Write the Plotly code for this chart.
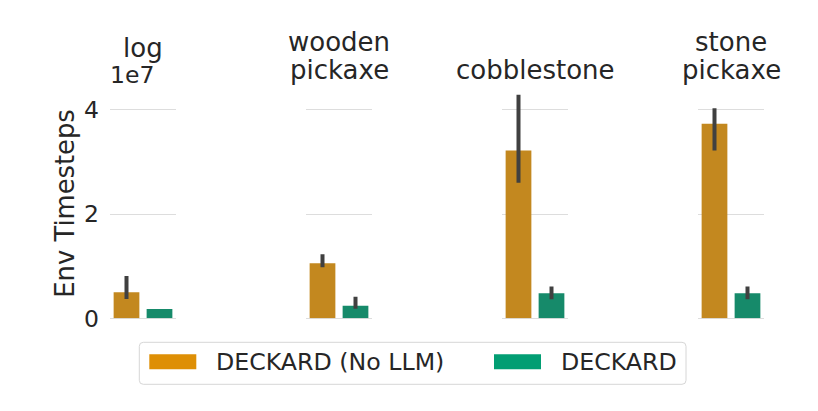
import plotly.graph_objects as go

# ---------------- data ----------------
tasks = ["log", "wooden\npickaxe", "cobblestone", "stone\npickaxe"]
series = ["DECKARD (No LLM)", "DECKARD"]

no_llm_mean = [0.50e7, 1.055e7, 3.22e7, 3.735e7]
no_llm_lo = [0.37e7, 0.98e7, 2.60e7, 3.22e7]
no_llm_hi = [0.81e7, 1.23e7, 4.29e7, 4.03e7]

deckard_mean = [0.18e7, 0.24e7, 0.48e7, 0.48e7]
deckard_lo = [0.18e7, 0.185e7, 0.365e7, 0.365e7]
deckard_hi = [0.18e7, 0.415e7, 0.61e7, 0.61e7]

y_tick_vals = [0, 2e7, 4e7]
y_tick_text = ["0", "2", "4"]
y_offset_label = "1e7"
y_title = "Env Timesteps"

# ---------------- style ----------------
bar_colors = ["#c3881f", "#168a6a"]
legend_colors = ["#de8f05", "#029e73"]
err_color = "#404040"
grid_color = "#dddddd"
text_color = "#262626"
FONT = "DejaVu Sans"

W, H = 818, 411
panel_left = [110, 306, 502, 698]
panel_w = 66
y_top_px, y_bot_px = 89.1, 318.3
y_max = 4.4e7
tick_fs = 23.5
title_fs = 26
label_fs = 25.8
legend_fs = 23.7


def px(x):
    return x / W


def py(y):
    return 1 - y / H


fig = go.Figure()
groups = [
    (no_llm_mean, no_llm_lo, no_llm_hi),
    (deckard_mean, deckard_lo, deckard_hi),
]

for i, task in enumerate(tasks):
    sfx = "" if i == 0 else str(i + 1)
    for j, (means, lo, hi) in enumerate(groups):
        fig.add_trace(go.Bar(
            x=[series[j]], y=[means[i]],
            xaxis="x" + sfx, yaxis="y" + sfx,
            marker=dict(color=bar_colors[j], line=dict(width=0)),
            width=0.78,
            error_y=dict(type="data", symmetric=False,
                         array=[hi[i] - means[i]],
                         arrayminus=[means[i] - lo[i]],
                         color=err_color, thickness=4, width=0),
            showlegend=False,
        ))
    fig.layout["xaxis" + sfx] = dict(
        domain=[px(panel_left[i]), px(panel_left[i] + panel_w)],
        type="category", categoryarray=series, categoryorder="array",
        range=[-0.5, 1.5], showticklabels=False, showgrid=False,
        zeroline=False, showline=False, ticks="",
        anchor="y" + sfx,
    )
    fig.layout["yaxis" + sfx] = dict(
        domain=[py(y_bot_px), py(y_top_px)],
        range=[0, y_max],
        tickvals=y_tick_vals, ticktext=y_tick_text,
        showticklabels=(i == 0),
        tickfont=dict(size=tick_fs, color=text_color, family=FONT),
        ticklabelstandoff=10,
        showgrid=True, gridcolor=grid_color, gridwidth=1,
        zeroline=True, zerolinecolor=grid_color, zerolinewidth=1,
        showline=False, ticks="",
        anchor="x" + sfx,
    )

annotations = []
# panel titles
for i, task in enumerate(tasks):
    lines = task.split("\n")
    last_base = 78.8 if i > 0 else 57.0
    cx = panel_left[i] + panel_w / 2
    for k, line in enumerate(lines):
        base = last_base - (len(lines) - 1 - k) * 28
        annotations.append(dict(
            text=line, x=px(cx), y=py(base - 0.346 * title_fs),
            xref="paper", yref="paper", xanchor="center", yanchor="middle",
            showarrow=False, borderpad=0,
            font=dict(size=title_fs, color=text_color, family=FONT),
        ))

# offset text
annotations.append(dict(
    text=y_offset_label, x=px(109), y=py(83.3 - 0.346 * tick_fs),
    xref="paper", yref="paper", xanchor="left", yanchor="middle",
    showarrow=False, borderpad=0,
    font=dict(size=tick_fs, color=text_color, family=FONT),
))

# y title
annotations.append(dict(
    text=y_title, x=px(65), y=py((y_top_px + y_bot_px) / 2),
    xref="paper", yref="paper", xanchor="center", yanchor="middle",
    textangle=-90, showarrow=False, borderpad=0,
    font=dict(size=label_fs, color=text_color, family=FONT),
))

# legend (drawn manually)
shapes = []
lx0, lx1, ly0, ly1, r = 139.3, 686, 342.3, 384.3, 4
path = (f"M {px(lx0 + r)},{py(ly0)} L {px(lx1 - r)},{py(ly0)} "
        f"Q {px(lx1)},{py(ly0)} {px(lx1)},{py(ly0 + r)} "
        f"L {px(lx1)},{py(ly1 - r)} Q {px(lx1)},{py(ly1)} {px(lx1 - r)},{py(ly1)} "
        f"L {px(lx0 + r)},{py(ly1)} Q {px(lx0)},{py(ly1)} {px(lx0)},{py(ly1 - r)} "
        f"L {px(lx0)},{py(ly0 + r)} Q {px(lx0)},{py(ly0)} {px(lx0 + r)},{py(ly0)} Z")
shapes.append(dict(type="path", path=path, xref="paper", yref="paper",
                   line=dict(color="#d6d6d6", width=1), fillcolor="white", layer="above"))
entry_x = [149.3, 494]
for j, name in enumerate(series):
    shapes.append(dict(type="rect", xref="paper", yref="paper",
                       x0=px(entry_x[j]), x1=px(entry_x[j] + 47),
                       y0=py(354.3), y1=py(369.3),
                       fillcolor=legend_colors[j], line=dict(width=0), layer="above"))
    annotations.append(dict(
        text=name, x=px(entry_x[j] + 66), y=py(370 - 0.346 * legend_fs),
        xref="paper", yref="paper", xanchor="left", yanchor="middle",
        showarrow=False, borderpad=0,
        font=dict(size=legend_fs, color=text_color, family=FONT),
    ))

fig.update_layout(
    width=W, height=H,
    margin=dict(l=0, r=0, t=0, b=0, autoexpand=False),
    paper_bgcolor="white", plot_bgcolor="white",
    barmode="overlay",
    annotations=annotations, shapes=shapes,
    font=dict(family=FONT, color=text_color),
)

fig.write_html(
    "out.html",
    config={"displayModeBar": False},
    post_script="document.body.style.margin='0';document.body.style.overflow='hidden';",
)
